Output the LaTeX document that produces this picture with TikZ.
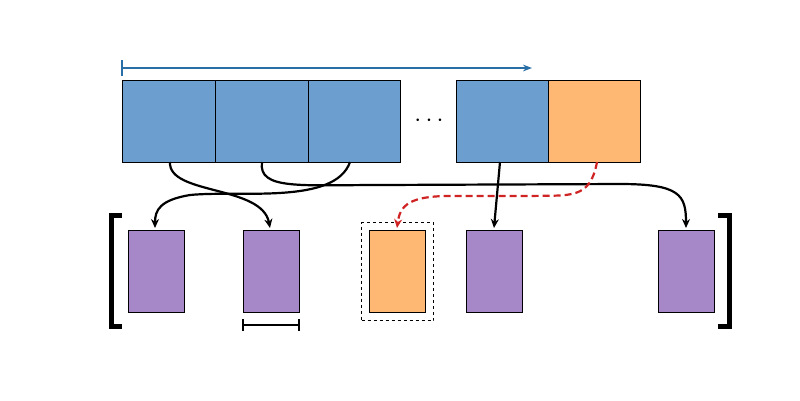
\documentclass[tikz,border=0pt]{standalone}
\usetikzlibrary{arrows.meta}
\definecolor{bl}{HTML}{6C9FD0}
\definecolor{orn}{HTML}{FFB873}
\definecolor{pur}{HTML}{A688C9}
\definecolor{arr}{HTML}{2A6EA6}
\definecolor{rd}{HTML}{D02424}
\begin{document}
\begin{tikzpicture}[x=1pt,y=-1pt,
  top/.style={draw,line width=1.4pt,fill=bl,minimum width=93pt,minimum height=82pt,inner sep=0,anchor=north west},
  bot/.style={draw,line width=1.4pt,fill=pur,minimum width=56pt,minimum height=82pt,inner sep=0,anchor=north west},
  con/.style={line width=2.2pt,-{Stealth[length=9pt,width=8pt]}}]
\useasboundingbox (0,0) rectangle (800,400);
\node[top] (a1) at (122,80) {};
\node[top] (a2) at (215,80) {};
\node[top,minimum width=92pt] (a3) at (308,80) {};
\node (dots) at (429,121) {\Huge\bfseries\textbf{$\cdots$}};
\node[top,minimum width=92pt] (a4) at (456,80) {};
\node[top,fill=orn,minimum width=92pt] (a5) at (548,80) {};
\draw[arr,line width=1.6pt,-{Stealth[length=9pt]}] (122,60) -- (122,76) (122,68) -- (532,68) coordinate (ae);
\node[bot] (b1) at (128,230) {};
\node[bot] (b2) at (243,230) {};
\node[bot,fill=orn] (b3) at (369,230) {};
\node[draw,dashed,line width=1pt,minimum width=72pt,minimum height=98pt,inner sep=0,anchor=north west] (bd) at (361,222) {};
\node[bot] (b4) at (466,230) {};
\node[bot] (b5) at (658,230) {};
\draw[line width=5pt] (122,215) -- (111,215) -- (111,326) -- (122,326);
\draw[line width=5pt] (718,215) -- (729,215) -- (729,326) -- (718,326);
\draw[line width=1.8pt] (243,319) -- (243,331) (299,319) -- (299,331) (243,325) -- (299,325);
\draw[con] (170,162) .. controls (168,195) and (262,185) .. (270,228);
\draw[con] (262,162) .. controls (258,190) and (300,185) .. (380,185) -- (620,184) .. controls (680,184) and (686,195) .. (686,228);
\draw[con] (350,162) .. controls (335,205) and (240,190) .. (190,195) .. controls (160,200) and (155,210) .. (155,228);
\draw[con] (500,162) -- (494,228);
\draw[rd,line width=2.2pt,dash pattern=on 7pt off 4pt,-{Stealth[length=9pt,width=8pt]}] (597,162) .. controls (590,200) and (570,195) .. (530,196) -- (450,196) .. controls (410,196) and (400,205) .. (397,228);
\end{tikzpicture}
\end{document}
